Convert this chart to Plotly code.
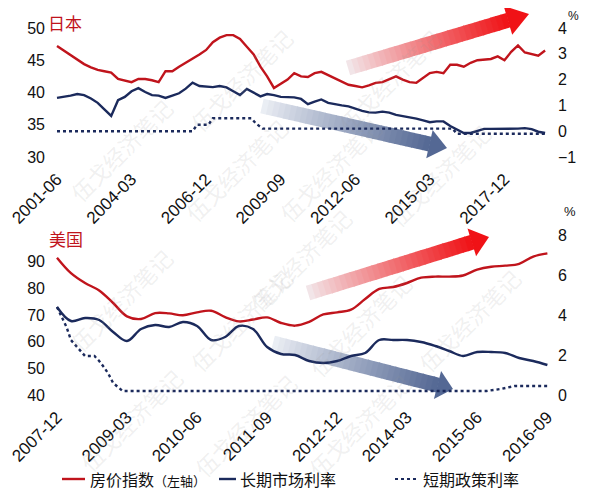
import pandas as pd
import plotly.graph_objects as go


CHART_TEMPLATE = "plotly_white"
RED = "#C0141C"
NAVY = "#1B2A5C"
TEXT = "#111111"
FONT = "Liberation Sans, Arial, sans-serif"
CJK = "Noto Sans CJK SC, sans-serif"

# the page body keeps its default 8px margin, so the figure sits 8px in from the window corner
PAGE_OFFSET = 8
WIDTH, HEIGHT = 600 - PAGE_OFFSET, 495 - PAGE_OFFSET
MARGIN_L, MARGIN_R = 55 - PAGE_OFFSET, 52

# ---- Japan (quarterly, 2001-06 .. 2019-06) ----
jp_dates = pd.date_range("2001-06-01", "2019-06-01", freq="3MS")
jp_house = [
    47.2, 46.5, 45.8, 45.0, 44.4, 43.9, 43.5, 43.3, 43.1, 42.1,
    41.9, 41.6, 42.1, 42.1, 41.9, 41.6, 43.3, 43.3, 44.0, 44.6,
    45.3, 45.9, 46.6, 47.8, 48.5, 48.9, 48.9, 48.3, 47.1, 45.9,
    44.0, 42.5, 40.7, 41.3, 42.0, 43.0, 42.5, 42.4, 43.0, 43.2,
    42.7, 42.1, 41.7, 41.2, 41.0, 40.8, 41.1, 41.5, 41.6, 42.1,
    42.5, 42.0, 41.6, 41.5, 42.2, 43.0, 43.2, 43.0, 44.3, 44.3,
    44.0, 44.6, 45.0, 45.1, 45.2, 45.6, 45.0, 46.3, 47.3, 46.2,
    46.0, 45.7, 46.5,
]
jp_long = [
    1.29, 1.33, 1.38, 1.44, 1.40, 1.27, 1.10, 0.85, 0.59, 1.20,
    1.33, 1.55, 1.67, 1.52, 1.40, 1.38, 1.29, 1.38, 1.47, 1.65,
    1.88, 1.75, 1.72, 1.71, 1.75, 1.70, 1.55, 1.40, 1.64, 1.50,
    1.35, 1.44, 1.40, 1.33, 1.33, 1.31, 1.25, 1.05, 1.15, 1.23,
    1.10, 1.04, 1.00, 0.96, 0.87, 0.79, 0.73, 0.72, 0.76, 0.72,
    0.63, 0.59, 0.55, 0.49, 0.42, 0.35, 0.38, 0.38, 0.20, 0.05,
    -0.07, -0.07, 0.02, 0.09, 0.09, 0.09, 0.09, 0.09, 0.10, 0.12,
    0.08, -0.02, -0.07,
]
jp_policy_dates = [
    "2001-06-01", "2006-06-01", "2006-08-01", "2007-01-01", "2007-03-01",
    "2008-08-01", "2008-10-01", "2009-01-01", "2016-01-01", "2016-03-01",
    "2019-06-01",
]
jp_policy = [0.0, 0.0, 0.25, 0.25, 0.5, 0.5, 0.3, 0.1, 0.1, -0.1, -0.1]
jp_ticks = ["2001-06", "2004-03", "2006-12", "2009-09", "2012-06", "2015-03", "2017-12"]

# ---- US (quarterly, 2007-12 .. 2016-09) ----
us_dates = pd.date_range("2007-12-01", "2016-09-01", freq="3MS")
us_house = [
    91.5, 85.7, 82.0, 79.2, 74.5, 69.5, 68.5, 70.7, 70.6, 69.9,
    71.0, 71.6, 69.2, 67.6, 68.3, 69.1, 67.0, 66.0, 67.4, 70.2,
    71.0, 72.0, 76.0, 79.8, 80.5, 82.0, 84.0, 84.4, 84.4, 84.8,
    87.0, 88.1, 88.5, 89.2, 91.9, 93.1,
]
us_long = [
    4.4, 3.7, 3.85, 3.75, 3.15, 2.7, 3.3, 3.5, 3.4, 3.65,
    3.45, 2.75, 2.9, 3.45, 3.3, 2.4, 2.05, 2.0, 1.7, 1.6,
    1.7, 1.95, 2.1, 2.75, 2.75, 2.75, 2.65, 2.45, 2.2, 1.95,
    2.15, 2.15, 2.1, 1.85, 1.7, 1.5,
]
us_policy_dates = [
    "2007-12-01", "2008-01-01", "2008-02-01", "2008-03-01", "2008-05-01",
    "2008-06-01", "2008-08-01", "2008-09-01", "2008-10-01", "2008-11-01",
    "2008-12-01", "2009-02-01", "2015-08-01", "2015-11-01", "2016-02-01",
    "2016-09-01",
]
us_policy = [4.4, 3.9, 3.4, 2.75, 2.25, 1.95, 1.95, 1.7, 1.4, 1.05, 0.6, 0.2, 0.2, 0.3, 0.45, 0.45]
us_ticks = ["2007-12", "2009-03", "2010-06", "2011-09", "2012-12", "2014-03", "2015-06", "2016-09"]

series_names = ["房价指数", "长期市场利率", "短期政策利率"]
watermark = "伍戈经济笔记"


def px(x):
    """Window pixel x -> paper x."""
    return (x - PAGE_OFFSET - MARGIN_L) / (WIDTH - MARGIN_L - MARGIN_R)


def py(y):
    """Window pixel y -> paper y."""
    return 1 - (y - PAGE_OFFSET) / HEIGHT


def mix(c0, c1, t):
    return "rgb(%d,%d,%d)" % tuple(round(a + (b - a) * t) for a, b in zip(c0, c1))


def arrow_shapes(tail, tip, c0, c1, shaft=15, head_w=30, head_len=20, n=30):
    """Gradient arrow built from thin slices (window pixels in, paper coords out)."""
    tx, ty = tail
    hx, hy = tip
    dx, dy = hx - tx, hy - ty
    length = (dx * dx + dy * dy) ** 0.5
    ux, uy = dx / length, dy / length
    nx, ny = -uy, ux
    base = length - head_len

    def pt(s, w):
        return "%.5f,%.5f" % (px(tx + ux * s + nx * w), py(ty + uy * s + ny * w))

    shapes = []
    for i in range(n):
        s0 = base * i / n
        s1 = min(base * (i + 1) / n + 0.8, base + 0.5)
        color = mix(c0, c1, ((i + 0.5) / n) ** 0.9)
        path = "M%s L%s L%s L%s Z" % (pt(s0, -shaft / 2), pt(s1, -shaft / 2), pt(s1, shaft / 2), pt(s0, shaft / 2))
        shapes.append(dict(type="path", path=path, xref="paper", yref="paper",
                           fillcolor=color, line_width=0, layer="below"))
    path = "M%s L%s L%s Z" % (pt(base, -head_w / 2), pt(length, 0), pt(base, head_w / 2))
    shapes.append(dict(type="path", path=path, xref="paper", yref="paper",
                       fillcolor=mix(c0, c1, 1), line_width=0, layer="below"))
    return shapes


def line_trace(x, y, color, dash, xaxis, yaxis, name, shape="linear"):
    return go.Scatter(
        x=x, y=y, mode="lines", name=name, showlegend=False,
        line=dict(color=color, width=2.4, dash=dash, shape=shape),
        xaxis=xaxis, yaxis=yaxis, hoverinfo="skip",
    )


fig = go.Figure()
fig.add_trace(line_trace(jp_dates, jp_house, RED, "solid", "x", "y", series_names[0]))
fig.add_trace(line_trace(jp_dates, jp_long, NAVY, "solid", "x", "y2", series_names[1]))
fig.add_trace(line_trace(jp_policy_dates, jp_policy, NAVY, "dot", "x", "y2", series_names[2]))
fig.add_trace(line_trace(us_dates, us_house, RED, "solid", "x2", "y3", series_names[0], "spline"))
fig.add_trace(line_trace(us_dates, us_long, NAVY, "solid", "x2", "y4", series_names[1], "spline"))
fig.add_trace(line_trace(us_policy_dates, us_policy, NAVY, "dot", "x2", "y4", series_names[2]))

tick_font = dict(family=FONT, size=16, color=TEXT)
x_common = dict(type="date", showgrid=False, showline=False, zeroline=False, ticks="",
                tickangle=-45, tickfont=dict(family=FONT, size=17, color=TEXT),
                ticklabelstandoff=8, automargin=False, domain=[0, 1])
y_common = dict(showgrid=False, showline=False, zeroline=False, ticks="",
                tickfont=tick_font, ticklabelstandoff=9, automargin=False)

top_dom = [py(157), py(28)]
bot_dom = [py(395), py(235)]

fig.update_layout(
    xaxis=dict(x_common, anchor="y", range=["2001-05-05", "2019-07-10"],
               tickvals=[t + "-01" for t in jp_ticks], ticktext=jp_ticks),
    yaxis=dict(y_common, domain=top_dom, anchor="x", range=[30, 50],
               tickvals=[30, 35, 40, 45, 50]),
    yaxis2=dict(y_common, overlaying="y", side="right", anchor="x", range=[-1, 4],
                tickvals=[-1, 0, 1, 2, 3, 4]),
    xaxis2=dict(x_common, anchor="y3", range=["2007-11-18", "2016-09-05"],
                tickvals=[t + "-01" for t in us_ticks], ticktext=us_ticks),
    yaxis3=dict(y_common, domain=bot_dom, anchor="x2", range=[40, 100],
                tickvals=[40, 50, 60, 70, 80, 90]),
    yaxis4=dict(y_common, overlaying="y3", side="right", anchor="x2", range=[0, 8],
                tickvals=[0, 2, 4, 6, 8]),
)

# gradient trend arrows
shapes = []
shapes += arrow_shapes((348, 68), (529, 14), (242, 234, 237), (240, 18, 22), head_len=22)
shapes += arrow_shapes((262, 106), (447, 148), (238, 241, 246), (84, 104, 148), head_w=29, head_len=18)
shapes += arrow_shapes((308, 293), (489, 237), (242, 234, 237), (240, 18, 22), head_w=29, head_len=18)
shapes += arrow_shapes((273, 343), (453, 389), (238, 241, 246), (84, 104, 148), head_w=29, head_len=16)

# legend, drawn by hand to match the short keys of the original
legend_y = py(479)
shapes.append(dict(type="line", xref="paper", yref="paper", x0=px(62), x1=px(85), y0=legend_y, y1=legend_y,
                   line=dict(color=RED, width=2.4)))
shapes.append(dict(type="line", xref="paper", yref="paper", x0=px(219), x1=px(236), y0=legend_y, y1=legend_y,
                   line=dict(color=NAVY, width=2.4)))
shapes.append(dict(type="line", xref="paper", yref="paper", x0=px(395), x1=px(418), y0=legend_y, y1=legend_y,
                   line=dict(color=NAVY, width=1.8, dash="dot")))

annotations = []
for wx, wy in [(180, 80), (450, 80), (60, 150), (175, 170), (330, 170), (500, 175),
               (300, 260), (60, 300), (180, 320), (360, 325), (530, 320),
               (70, 420), (245, 425), (420, 425)]:
    annotations.append(dict(x=px(wx), y=py(wy), xref="paper", yref="paper", text=watermark,
                            showarrow=False, textangle=-45,
                            font=dict(family=CJK, size=22, color="rgba(150,150,150,0.15)")))

annotations += [
    dict(x=px(47), y=py(9), text="日本", font=dict(family=CJK, size=17, color=RED),
         xanchor="left", yanchor="top", borderpad=0),
    dict(x=px(47), y=py(238), text="美国", font=dict(family=CJK, size=17, color=RED), xanchor="left"),
    dict(x=px(567), y=py(8), text="%", font=dict(family=FONT, size=12, color=TEXT),
         xanchor="left", yanchor="top", borderpad=0),
    dict(x=px(562), y=py(211), text="%", font=dict(family=FONT, size=13, color=TEXT), xanchor="left"),
    dict(x=px(88), y=legend_y,
         text=series_names[0] + "<span style='font-size:13px'>（左轴）</span>",
         font=dict(family=CJK, size=16, color=TEXT), xanchor="left"),
    dict(x=px(238), y=legend_y, text=series_names[1],
         font=dict(family=CJK, size=16, color=TEXT), xanchor="left"),
    dict(x=px(421), y=legend_y, text=series_names[2],
         font=dict(family=CJK, size=16, color=TEXT), xanchor="left"),
]
for a in annotations:
    a.setdefault("xref", "paper")
    a.setdefault("yref", "paper")
    a.setdefault("showarrow", False)
    a.setdefault("yanchor", "middle")

fig.update_layout(
    template=CHART_TEMPLATE,
    width=WIDTH,
    height=HEIGHT,
    margin=dict(l=MARGIN_L, r=MARGIN_R, t=0, b=0),
    paper_bgcolor="white",
    plot_bgcolor="white",
    showlegend=False,
    shapes=shapes,
    annotations=annotations,
)

fig.write_html("out.html")
